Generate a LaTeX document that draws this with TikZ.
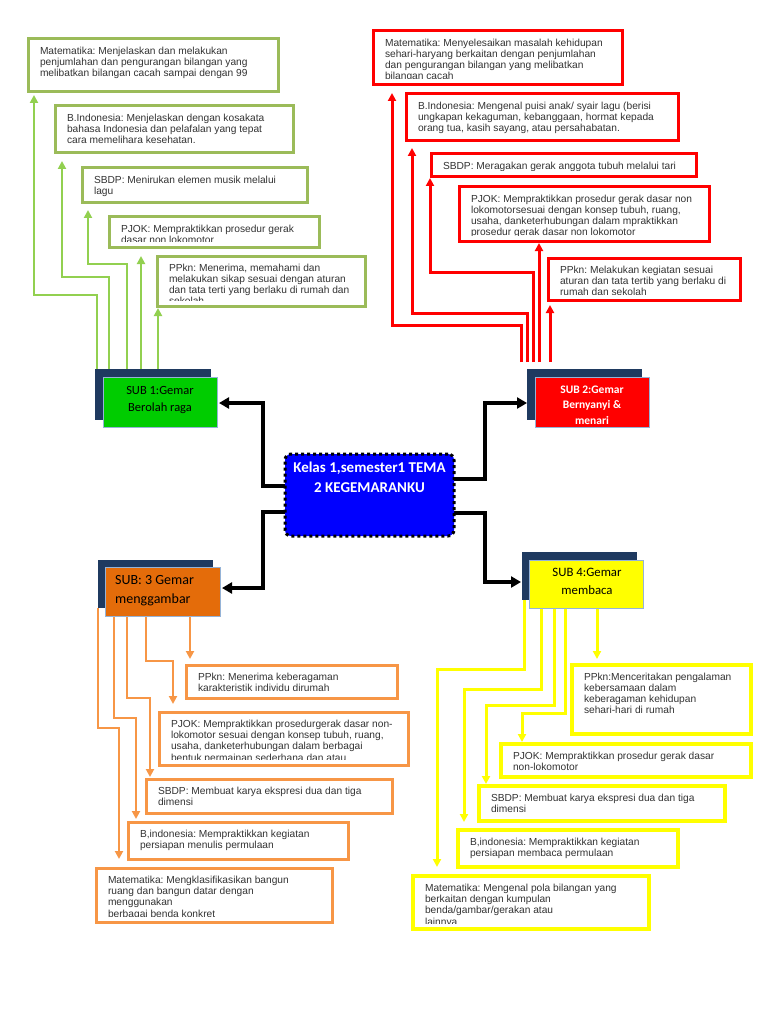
\documentclass[tikz,border=0pt]{standalone}
\usepackage{fontspec}
\setmainfont{Liberation Sans}
\newfontfamily\calf{Carlito}
\usetikzlibrary{arrows.meta,calc}
\pgfdeclarelayer{bg}
\pgfsetlayers{bg,main}
\definecolor{gbord}{HTML}{9BBB59}
\definecolor{garrc}{HTML}{92D050}
\definecolor{rcol}{HTML}{FF0000}
\definecolor{ocol}{HTML}{F79646}
\definecolor{ycol}{HTML}{FFFF00}
\definecolor{navy}{HTML}{1F3A60}
\definecolor{frontb}{HTML}{95B3D7}
\definecolor{sonefill}{HTML}{00CC00}
\definecolor{sthreefill}{HTML}{E46C0A}
\definecolor{ctrfill}{HTML}{0000FF}
\definecolor{txtc}{HTML}{333333}
\tikzset{
  boxbase/.style={rectangle, draw, fill=white, inner sep=0pt, outer sep=0pt},
  gbox/.style={boxbase, draw=gbord, line width=3pt},
  rbox/.style={boxbase, draw=rcol, line width=3pt},
  obox/.style={boxbase, draw=ocol, line width=3pt},
  ybox/.style={boxbase, draw=ycol, line width=3.5pt},
  txt/.style={inner sep=0pt, outer sep=0pt, align=left, text=txtc, font=\frenchspacing\fontsize{10.2}{11.2}\selectfont},
  tipconn/.style={-{Triangle[length=8pt,width=8pt]}},
  garr/.style={tipconn, draw=garrc, line width=2pt},
  rarr/.style={tipconn, draw=rcol, line width=3pt},
  oarr/.style={tipconn, draw=ocol, line width=2.5pt},
  yarr/.style={tipconn, draw=ycol, line width=3pt},
  barr/.style={-{Triangle[length=10pt,width=11pt]}, draw=black, line width=4pt},
  shadowbox/.style={rectangle, fill=navy, draw=none, inner sep=0pt, outer sep=0pt},
  frontbox/.style={rectangle, draw=frontb, line width=0.8pt, inner sep=0pt, outer sep=0pt},
}
\newcommand\tkbox[7]{%
  \node[#6, minimum width={#4-#2}, minimum height={#5-#3}] (#1) at ({(#2+#4)/2},{(#3+#5)/2}) {};
  \begin{scope}
    \clip (#2,#3) rectangle (#4,{#5-6});
    \node[txt, anchor=north west] (#1t) at ({#2+12},{#3+8}) {#7};
  \end{scope}
}
\begin{document}
\begin{tikzpicture}[x=1pt,y=-1pt]
\begin{pgfonlayer}{bg}
\fill[white] (0,0) rectangle (768,1024);
\end{pgfonlayer}
\useasboundingbox (0,0) rectangle (768,1024);

% ---------- green boxes ----------
\tkbox{gmat}{28}{39}{278}{92}{gbox}{Matematika: Menjelaskan dan melakukan\\penjumlahan dan pengurangan bilangan yang\\melibatkan bilangan cacah sampai dengan 99}
\tkbox{gbind}{55}{106}{293}{153}{gbox}{B.Indonesia: Menjelaskan dengan kosakata\\bahasa Indonesia dan pelafalan yang tepat\\cara memelihara kesehatan.}
\tkbox{gsbdp}{82}{168}{307}{203}{gbox}{SBDP: Menirukan elemen musik melalui\\lagu}
\tkbox{gpjok}{109}{217}{319}{247}{gbox}{PJOK: Mempraktikkan prosedur gerak\\dasar non lokomotor}
\tkbox{gppkn}{157}{256}{365}{306}{gbox}{PPkn: Menerima, memahami dan\\melakukan sikap sesuai dengan aturan\\dan tata terti yang berlaku di rumah dan\\sekolah}

% ---------- red boxes ----------
\tkbox{rmat}{373}{31}{622}{85}{rbox}{Matematika: Menyelesaikan masalah kehidupan\\sehari-haryang berkaitan dengan penjumlahan\\dan pengurangan bilangan yang melibatkan\\bilangan cacah}
\tkbox{rbind}{406}{94}{678}{141}{rbox}{B.Indonesia: Mengenal puisi anak/ syair lagu (berisi\\ungkapan kekaguman, kebanggaan, hormat kepada\\orang tua, kasih sayang, atau persahabatan.}
\tkbox{rsbdp}{431}{154}{696}{177}{rbox}{SBDP: Meragakan gerak anggota tubuh melalui tari}
\tkbox{rpjok}{459}{187}{709}{241}{rbox}{PJOK: Mempraktikkan prosedur gerak dasar non\\lokomotorsesuai dengan konsep tubuh, ruang,\\usaha, danketerhubungan dalam mpraktikkan\\prosedur gerak dasar non lokomotor}
\tkbox{rppkn}{548}{258}{740}{300}{rbox}{PPkn: Melakukan kegiatan sesuai\\aturan dan tata tertib yang berlaku di\\rumah dan sekolah}

% ---------- orange boxes ----------
\tkbox{oppkn}{186}{665}{397}{698}{obox}{PPkn: Menerima keberagaman\\karakteristik individu dirumah}
\tkbox{opjok}{159}{712}{408}{765}{obox}{PJOK: Mempraktikkan prosedurgerak dasar non-\\lokomotor sesuai dengan konsep tubuh, ruang,\\usaha, danketerhubungan dalam berbagai\\bentuk permainan sederhana dan atau}
\tkbox{osbdp}{146}{779}{392}{813}{obox}{SBDP: Membuat karya ekspresi dua dan tiga\\dimensi}
\tkbox{obind}{128}{822}{348}{859}{obox}{B,indonesia: Mempraktikkan kegiatan\\persiapan menulis permulaan}
\tkbox{omat}{96}{868}{332}{922}{obox}{Matematika: Mengklasifikasikan bangun\\ruang dan bangun datar dengan\\menggunakan\\berbagai benda konkret}

% ---------- yellow boxes ----------
\tkbox{yppkn}{572}{665}{751}{734}{ybox}{PPkn:Menceritakan pengalaman\\kebersamaan dalam\\keberagaman kehidupan\\sehari-hari di rumah}
\tkbox{ypjok}{501}{744}{751}{777}{ybox}{PJOK: Mempraktikkan prosedur gerak dasar\\non-lokomotor}
\tkbox{ysbdp}{479}{786}{725}{821}{ybox}{SBDP: Membuat karya ekspresi dua dan tiga\\dimensi}
\tkbox{ybind}{458}{830}{678}{867}{ybox}{B,indonesia: Mempraktikkan kegiatan\\persiapan membaca permulaan}
\tkbox{ymat}{413}{876}{649}{929}{ybox}{Matematika: Mengenal pola bilangan yang\\berkaitan dengan kumpulan\\benda/gambar/gerakan atau\\lainnya}

% ---------- sub boxes ----------
\node[shadowbox, minimum width=116, minimum height=51] (sub1sh) at (153,394.5) {};
\node[frontbox, fill=sonefill, minimum width=114, minimum height=50] (sub1) at (160,402) {};
\node[anchor=north, align=center, inner sep=0pt, font=\calf\fontsize{12.5}{17}\selectfont] (sub1t) at (160,386) {SUB 1:Gemar\\Berolah raga};

\node[shadowbox, minimum width=115, minimum height=51] (sub2sh) at (584.5,394.5) {};
\node[frontbox, fill=rcol, minimum width=114, minimum height=50] (sub2) at (592,402) {};
\node[anchor=north, align=center, inner sep=0pt, text=white, font=\calf\bfseries\fontsize{11.5}{15.5}\selectfont] (sub2t) at (592,385.3) {SUB 2:Gemar\\Bernyanyi \&\\menari};

\node[shadowbox, minimum width=115, minimum height=48] (sub3sh) at (155.5,584) {};
\node[frontbox, fill=sthreefill, minimum width=115, minimum height=49] (sub3) at (162.5,591.5) {};
\node[anchor=north west, align=left, inner sep=0pt, font=\calf\fontsize{14}{19}\selectfont] (sub3t) at (115,575.5) {SUB: 3 Gemar\\menggambar};

\node[shadowbox, minimum width=115, minimum height=48] (sub4sh) at (579.5,576) {};
\node[frontbox, fill=ycol, minimum width=114, minimum height=48] (sub4) at (586,584) {};
\node[anchor=north, align=center, inner sep=0pt, font=\calf\fontsize{12.8}{18}\selectfont] (sub4t) at (587,567.8) {SUB 4:Gemar\\membaca};

% ---------- centre ----------
\node[rectangle, fill=ctrfill, draw=black, line width=3pt, dash pattern=on 3pt off 3pt, rounded corners=6pt, minimum width=169, minimum height=82, inner sep=0pt, outer sep=0pt] (ctr) at (369.5,495) {};
\node[anchor=north, align=center, inner sep=0pt, text=white, font=\calf\bfseries\fontsize{15}{20}\selectfont] (ctrt) at (369.5,462.2) {Kelas 1,semester1 TEMA\\2 KEGEMARANKU};

% ---------- connectors ----------
\begin{pgfonlayer}{bg}
% black
\draw[barr, shorten >=2pt] (ctr.west |- 0,486) -- (263,486) |- (sub1.east |- 0,403);
\draw[barr, shorten >=2pt] (ctr.west |- 0,512) -- (263,512) |- (sub3.east |- 0,588);
\draw[barr] (ctr.east |- 0,479) -- (485,479) |- (sub2sh.west |- 0,403);
\draw[barr, shorten >=1pt] (ctr.east |- 0,513) -- (485,513) |- (sub4sh.west |- 0,582);
% green
\draw[garr, shorten >=3pt] (sub1sh.north -| 97,0) |- (34,295) -- (gmat.south -| 34,0);
\draw[garr, shorten >=8pt] (sub1sh.north -| 109,0) |- (62,277) -- (gbind.south -| 62,0);
\draw[garr, shorten >=7pt] (sub1sh.north -| 127,0) |- (88,264) -- (gsbdp.south -| 88,0);
\draw[garr, shorten >=9pt] (sub1sh.north -| 141,0) -- (gpjok.south -| 141,0);
\draw[garr, shorten >=2pt] (sub1sh.north -| 158,0) -- (gppkn.south -| 158,0);
% red
\draw[rarr, shorten >=8pt] ($(sub2sh.north -| 521,0)+(0,-7)$) |- (392,325) -- (rmat.south -| 392,0);
\draw[rarr, shorten >=7pt] ($(sub2sh.north -| 527,0)+(0,-7)$) |- (412,313) -- (rbind.south -| 412,0);
\draw[rarr, shorten >=1pt] ($(sub2sh.north -| 533,0)+(0,-7)$) |- (430,272) -- (rsbdp.south -| 430,0);
\draw[rarr, shorten >=2pt] ($(sub2sh.north -| 539,0)+(0,-7)$) -- (rpjok.south -| 539,0);
\draw[rarr, shorten >=5pt] ($(sub2sh.north -| 550,0)+(0,-7)$) -- (rppkn.south -| 550,0);
% orange
\draw[oarr, shorten >=6pt] (sub3sh.south -| 190,0) -- (oppkn.north -| 190,0);
\draw[oarr, shorten >=8pt] (sub3sh.south -| 146,0) |- (173,661) -- (opjok.north -| 173,0);
\draw[oarr, shorten >=2pt] (sub3sh.south -| 127,0) |- (150,698) -- (osbdp.north -| 150,0);
\draw[oarr, shorten >=3pt] (sub3sh.south -| 114,0) |- (136,718) -- (obind.north -| 136,0);
\draw[oarr, shorten >=9pt] (sub3sh.south -| 98,0) |- (119,728) -- (omat.north -| 119,0);
% yellow
\draw[yarr, shorten >=6pt] (sub4sh.south -| 597,0) -- (yppkn.north -| 597,0);
\draw[yarr, shorten >=2pt] (sub4sh.south -| 565,0) |- (522,713) -- (ypjok.north -| 522,0);
\draw[yarr, shorten >=2pt] (sub4sh.south -| 554,0) |- (486,705) -- (ysbdp.north -| 486,0);
\draw[yarr, shorten >=8pt] (sub4sh.south -| 541,0) |- (464,689) -- (ybind.north -| 464,0);
\draw[yarr, shorten >=9pt] (sub4sh.south -| 524,0) |- (437,669) -- (ymat.north -| 437,0);
\end{pgfonlayer}
\end{tikzpicture}
\end{document}
